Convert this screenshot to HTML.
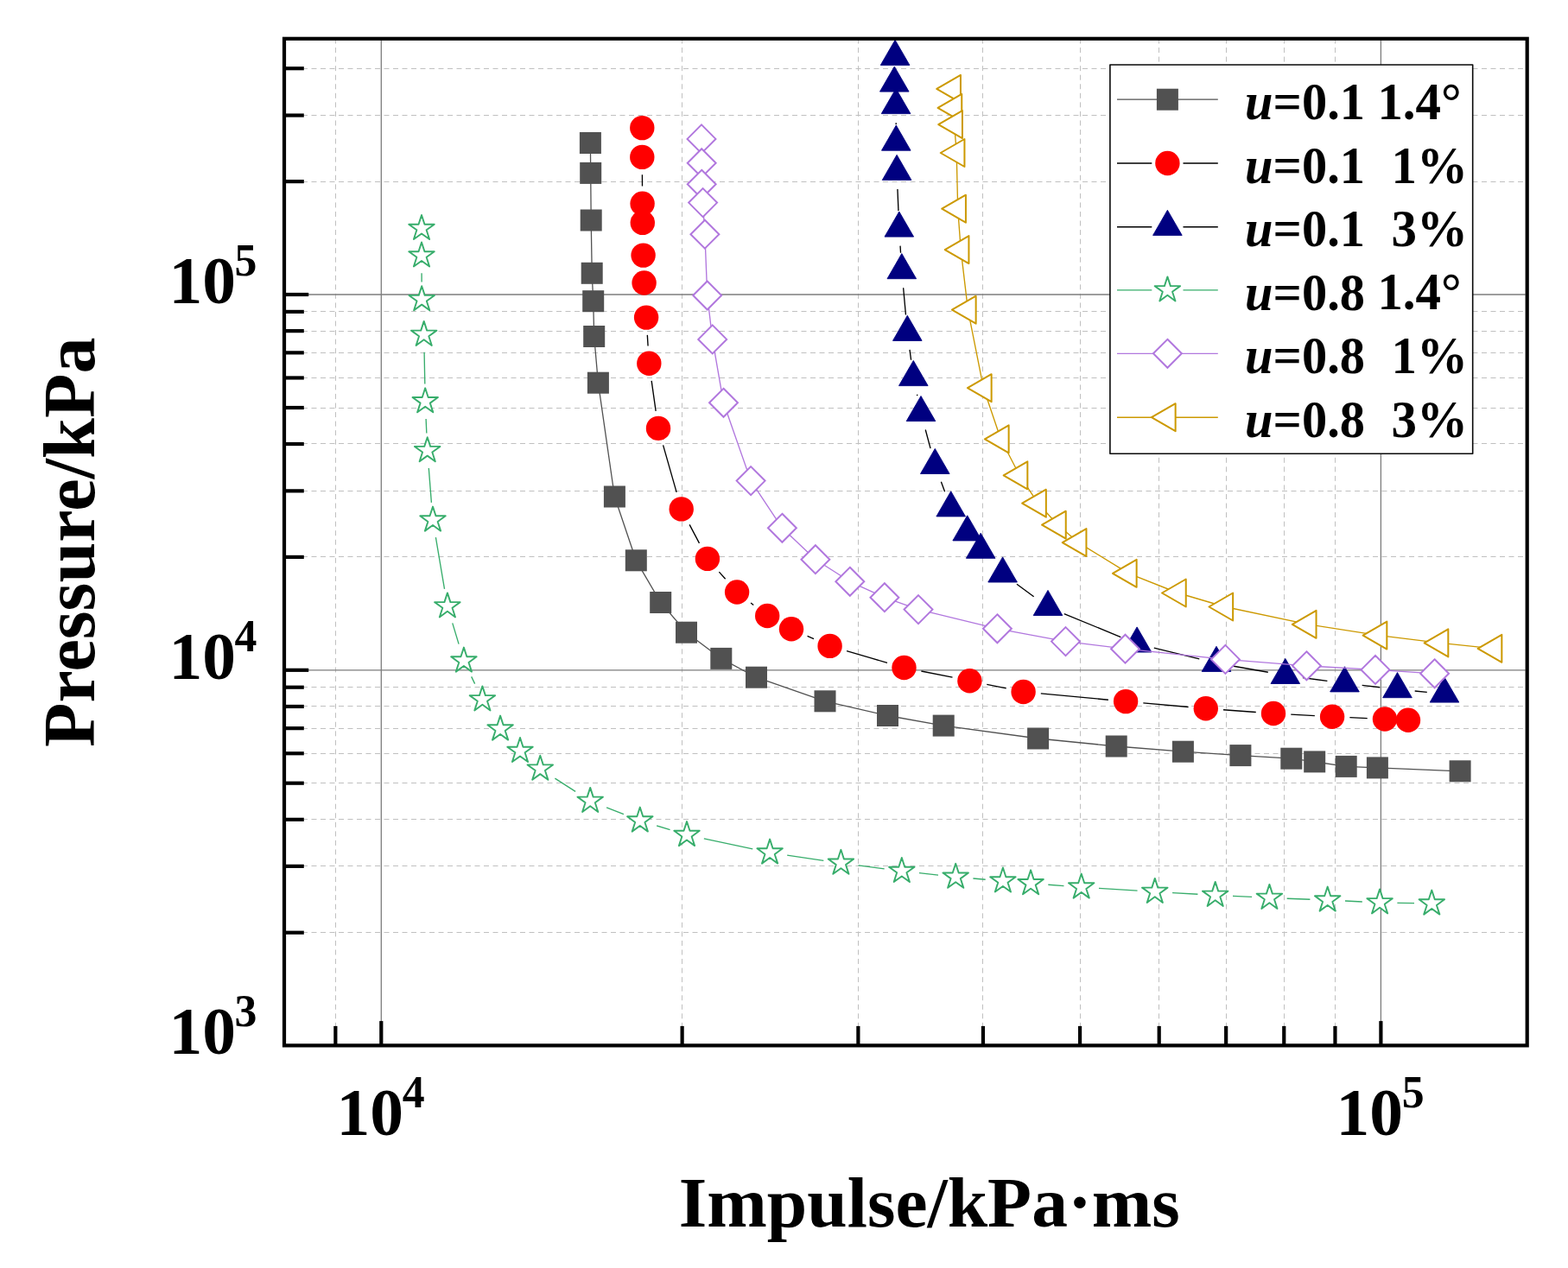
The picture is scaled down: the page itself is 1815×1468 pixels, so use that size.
<!DOCTYPE html>
<html lang="en"><head><meta charset="utf-8"><title>Pressure-Impulse curves</title>
<style>html,body{margin:0;padding:0;background:#fff}body{width:1815px;height:1468px;overflow:hidden}svg{display:block}text{font-family:"Liberation Serif",serif;font-weight:bold;fill:#000}</style>
</head><body>
<svg width="1815" height="1468" viewBox="0 0 1815 1468">
<rect x="0" y="0" width="1815" height="1468" fill="#fff"/>
<g stroke="#c0c0c0" stroke-width="1" stroke-dasharray="6 4.55" fill="none"><line x1="388.5" y1="44.5" x2="388.5" y2="1188.4"/><line x1="789.5" y1="44.5" x2="789.5" y2="1188.4"/><line x1="993.5" y1="44.5" x2="993.5" y2="1188.4"/><line x1="1137.5" y1="44.5" x2="1137.5" y2="1188.4"/><line x1="1250.5" y1="44.5" x2="1250.5" y2="1188.4"/><line x1="1341.5" y1="44.5" x2="1341.5" y2="1188.4"/><line x1="1419.5" y1="44.5" x2="1419.5" y2="1188.4"/><line x1="1486.5" y1="44.5" x2="1486.5" y2="1188.4"/><line x1="1545.5" y1="44.5" x2="1545.5" y2="1188.4"/></g>
<g stroke="#c0c0c0" stroke-width="1" stroke-dasharray="6 4.5" fill="none"><line x1="329" y1="1079.5" x2="1765.7" y2="1079.5"/><line x1="329" y1="1002.5" x2="1765.7" y2="1002.5"/><line x1="329" y1="948.5" x2="1765.7" y2="948.5"/><line x1="329" y1="906.5" x2="1765.7" y2="906.5"/><line x1="329" y1="872.5" x2="1765.7" y2="872.5"/><line x1="329" y1="843.5" x2="1765.7" y2="843.5"/><line x1="329" y1="817.5" x2="1765.7" y2="817.5"/><line x1="329" y1="795.5" x2="1765.7" y2="795.5"/><line x1="329" y1="644.5" x2="1765.7" y2="644.5"/><line x1="329" y1="568.5" x2="1765.7" y2="568.5"/><line x1="329" y1="513.5" x2="1765.7" y2="513.5"/><line x1="329" y1="472.5" x2="1765.7" y2="472.5"/><line x1="329" y1="437.5" x2="1765.7" y2="437.5"/><line x1="329" y1="408.5" x2="1765.7" y2="408.5"/><line x1="329" y1="383.5" x2="1765.7" y2="383.5"/><line x1="329" y1="360.5" x2="1765.7" y2="360.5"/><line x1="329" y1="210.5" x2="1765.7" y2="210.5"/><line x1="329" y1="133.5" x2="1765.7" y2="133.5"/><line x1="329" y1="79.5" x2="1765.7" y2="79.5"/></g>
<g stroke="#7c7c7c" stroke-width="1.3" fill="none"><line x1="441.3" y1="46.8" x2="441.3" y2="1184.4"/><line x1="1598.4" y1="46.8" x2="1598.4" y2="1184.4"/><line x1="355" y1="775.8" x2="1765.7" y2="775.8"/><line x1="355" y1="341" x2="1765.7" y2="341"/></g>
<g>
<path d="M683.4 165.5 L683.7 200.4 L684.2 255 L685.2 316.3 L686.7 348.7 L687.7 389.5 L692.4 443.2 L711.4 575 L736.3 648.8 L764.7 697.5 L794.5 732.2 L834.8 762.4 L875.5 784.2 L955 811.8 L1027.5 828.5 L1092.2 840.1 L1201.6 855 L1292.2 864 L1369.4 870.2 L1435.9 874.6 L1494.8 878.2 L1521.7 881.9 L1558.2 887.4 L1594.4 888.9 L1690.1 892.8" fill="none" stroke="#515151" stroke-width="1.3" stroke-linejoin="round"/>
<rect x="670.9" y="153" width="25" height="25" fill="#515151"/>
<rect x="671.2" y="187.9" width="25" height="25" fill="#515151"/>
<rect x="671.7" y="242.5" width="25" height="25" fill="#515151"/>
<rect x="672.7" y="303.8" width="25" height="25" fill="#515151"/>
<rect x="674.2" y="336.2" width="25" height="25" fill="#515151"/>
<rect x="675.2" y="377" width="25" height="25" fill="#515151"/>
<rect x="679.9" y="430.7" width="25" height="25" fill="#515151"/>
<rect x="698.9" y="562.5" width="25" height="25" fill="#515151"/>
<rect x="723.8" y="636.3" width="25" height="25" fill="#515151"/>
<rect x="752.2" y="685" width="25" height="25" fill="#515151"/>
<rect x="782" y="719.7" width="25" height="25" fill="#515151"/>
<rect x="822.3" y="749.9" width="25" height="25" fill="#515151"/>
<rect x="863" y="771.7" width="25" height="25" fill="#515151"/>
<rect x="942.5" y="799.3" width="25" height="25" fill="#515151"/>
<rect x="1015" y="816" width="25" height="25" fill="#515151"/>
<rect x="1079.7" y="827.6" width="25" height="25" fill="#515151"/>
<rect x="1189.1" y="842.5" width="25" height="25" fill="#515151"/>
<rect x="1279.7" y="851.5" width="25" height="25" fill="#515151"/>
<rect x="1356.9" y="857.7" width="25" height="25" fill="#515151"/>
<rect x="1423.4" y="862.1" width="25" height="25" fill="#515151"/>
<rect x="1482.3" y="865.7" width="25" height="25" fill="#515151"/>
<rect x="1509.2" y="869.4" width="25" height="25" fill="#515151"/>
<rect x="1545.7" y="874.9" width="25" height="25" fill="#515151"/>
<rect x="1581.9" y="876.4" width="25" height="25" fill="#515151"/>
<rect x="1677.6" y="880.3" width="25" height="25" fill="#515151"/>
</g>
<g>
<path d="M743.41 202.2 L743.49 215.4 M749.32 387.86 L750.08 400.44 M754.16 440.8 L759.14 475.8 M767.57 515.42 L783.13 569.88 M798.14 607.37 L809.46 628.93 M832.36 662.09 L839.64 670.31 M869.08 698.02 L872.22 700.48 M934.57 736.4 L942.03 739.7 M980.09 753.59 L1027.01 767.31 M1066.4 776.99 L1102.5 784.21 M1142.28 792.29 L1164.72 796.91 M1204.81 802.89 L1282.89 810.21 M1323.32 813.89 L1375.58 818.51 M1416.05 821.78 L1453.75 824.52 M1494.27 827.13 L1521.83 828.67 M1562.38 830.7 L1582.72 831.6" fill="none" stroke="#000000" stroke-width="1.35"/>
<circle cx="743.3" cy="148.1" r="14.2" fill="#FF0000"/>
<circle cx="743.3" cy="181.9" r="14.2" fill="#FF0000"/>
<circle cx="743.6" cy="235.7" r="14.2" fill="#FF0000"/>
<circle cx="743.8" cy="257.9" r="14.2" fill="#FF0000"/>
<circle cx="744.6" cy="295.6" r="14.2" fill="#FF0000"/>
<circle cx="745.6" cy="327.5" r="14.2" fill="#FF0000"/>
<circle cx="748.1" cy="367.6" r="14.2" fill="#FF0000"/>
<circle cx="751.3" cy="420.7" r="14.2" fill="#FF0000"/>
<circle cx="762" cy="495.9" r="14.2" fill="#FF0000"/>
<circle cx="788.7" cy="589.4" r="14.2" fill="#FF0000"/>
<circle cx="818.9" cy="646.9" r="14.2" fill="#FF0000"/>
<circle cx="853.1" cy="685.5" r="14.2" fill="#FF0000"/>
<circle cx="888.2" cy="713" r="14.2" fill="#FF0000"/>
<circle cx="916" cy="728.2" r="14.2" fill="#FF0000"/>
<circle cx="960.6" cy="747.9" r="14.2" fill="#FF0000"/>
<circle cx="1046.5" cy="773" r="14.2" fill="#FF0000"/>
<circle cx="1122.4" cy="788.2" r="14.2" fill="#FF0000"/>
<circle cx="1184.6" cy="801" r="14.2" fill="#FF0000"/>
<circle cx="1303.1" cy="812.1" r="14.2" fill="#FF0000"/>
<circle cx="1395.8" cy="820.3" r="14.2" fill="#FF0000"/>
<circle cx="1474" cy="826" r="14.2" fill="#FF0000"/>
<circle cx="1542.1" cy="829.8" r="14.2" fill="#FF0000"/>
<circle cx="1603" cy="832.5" r="14.2" fill="#FF0000"/>
<circle cx="1630" cy="833.8" r="14.2" fill="#FF0000"/>
</g>
<g>
<path d="M1037.2 142.2 L1037.2 144.2 M1038.93 218.98 L1039.97 244.12 M1042.05 284.66 L1042.55 292.74 M1045.63 333.22 L1048.47 364.48 M1053 404.82 L1054.6 416.78 M1061.51 456.76 L1061.79 458.04 M1071.25 497.51 L1077.05 519.19 M1089.39 557.82 L1093.61 569.18 M1176.96 676.32 L1196.64 690.78 M1231.77 710.54 L1297.33 737.56 M1335.82 750.11 L1388.28 762.89 M1427.99 771.23 L1467.81 778.27 M1507.91 784.55 L1536.39 788.45 M1576.68 793.45 L1597.32 795.75 M1637.7 800 L1651.8 801.4" fill="none" stroke="#000000" stroke-width="1.35"/>
<polygon points="1036.1,46.3 1019.3,75.4 1052.9,75.4" fill="#000080" stroke="#000080" stroke-width="0.9" stroke-linejoin="round"/>
<polygon points="1035.3,77 1018.5,106.1 1052.1,106.1" fill="#000080" stroke="#000080" stroke-width="0.9" stroke-linejoin="round"/>
<polygon points="1037.1,102.5 1020.3,131.6 1053.9,131.6" fill="#000080" stroke="#000080" stroke-width="0.9" stroke-linejoin="round"/>
<polygon points="1037.3,145.1 1020.5,174.2 1054.1,174.2" fill="#000080" stroke="#000080" stroke-width="0.9" stroke-linejoin="round"/>
<polygon points="1038.1,179.3 1021.3,208.4 1054.9,208.4" fill="#000080" stroke="#000080" stroke-width="0.9" stroke-linejoin="round"/>
<polygon points="1040.8,245 1024,274.1 1057.6,274.1" fill="#000080" stroke="#000080" stroke-width="0.9" stroke-linejoin="round"/>
<polygon points="1043.8,293.6 1027,322.7 1060.6,322.7" fill="#000080" stroke="#000080" stroke-width="0.9" stroke-linejoin="round"/>
<polygon points="1050.3,365.3 1033.5,394.4 1067.1,394.4" fill="#000080" stroke="#000080" stroke-width="0.9" stroke-linejoin="round"/>
<polygon points="1057.3,417.5 1040.5,446.6 1074.1,446.6" fill="#000080" stroke="#000080" stroke-width="0.9" stroke-linejoin="round"/>
<polygon points="1066,458.5 1049.2,487.6 1082.8,487.6" fill="#000080" stroke="#000080" stroke-width="0.9" stroke-linejoin="round"/>
<polygon points="1082.3,519.4 1065.5,548.5 1099.1,548.5" fill="#000080" stroke="#000080" stroke-width="0.9" stroke-linejoin="round"/>
<polygon points="1100.7,568.8 1083.9,597.9 1117.5,597.9" fill="#000080" stroke="#000080" stroke-width="0.9" stroke-linejoin="round"/>
<polygon points="1119.7,596.8 1102.9,625.9 1136.5,625.9" fill="#000080" stroke="#000080" stroke-width="0.9" stroke-linejoin="round"/>
<polygon points="1135.2,617.2 1118.4,646.3 1152,646.3" fill="#000080" stroke="#000080" stroke-width="0.9" stroke-linejoin="round"/>
<polygon points="1160.6,644.9 1143.8,674 1177.4,674" fill="#000080" stroke="#000080" stroke-width="0.9" stroke-linejoin="round"/>
<polygon points="1213,683.4 1196.2,712.5 1229.8,712.5" fill="#000080" stroke="#000080" stroke-width="0.9" stroke-linejoin="round"/>
<polygon points="1316.1,725.9 1299.3,755 1332.9,755" fill="#000080" stroke="#000080" stroke-width="0.9" stroke-linejoin="round"/>
<polygon points="1408,748.3 1391.2,777.4 1424.8,777.4" fill="#000080" stroke="#000080" stroke-width="0.9" stroke-linejoin="round"/>
<polygon points="1487.8,762.4 1471,791.5 1504.6,791.5" fill="#000080" stroke="#000080" stroke-width="0.9" stroke-linejoin="round"/>
<polygon points="1556.5,771.8 1539.7,800.9 1573.3,800.9" fill="#000080" stroke="#000080" stroke-width="0.9" stroke-linejoin="round"/>
<polygon points="1617.5,778.6 1600.7,807.7 1634.3,807.7" fill="#000080" stroke="#000080" stroke-width="0.9" stroke-linejoin="round"/>
<polygon points="1672,784 1655.2,813.1 1688.8,813.1" fill="#000080" stroke="#000080" stroke-width="0.9" stroke-linejoin="round"/>
</g>
<g>
<path d="M488.08 316.3 L488.12 326.4 M491.09 407.7 L491.81 444.5 M493.09 485.08 L493.81 501.42 M496.29 541.94 L499.41 581.86 M504.39 622.12 L514.51 681.88 M523.74 721.34 L531.06 745.66 M545.68 783.4 L549.62 791.6 M642.38 901.17 L666.12 916.43 M702.09 934.84 L721.91 942.66 M760.22 956.01 L775.58 960.69 M814.85 970.84 L871.25 982.86 M911.18 990.08 L953.32 996.32 M993.53 1001.93 L1023.67 1005.87 M1063.98 1010.7 L1086.02 1013.1 M1126.43 1017.04 L1140.67 1018.26 M1213.35 1024.29 L1231.45 1025.61 M1271.96 1028.36 L1316.54 1031.14 M1357.07 1033.56 L1386.43 1035.24 M1426.98 1037.37 L1449.12 1038.43 M1489.68 1040.21 L1516.42 1041.29 M1556.98 1043.04 L1576.82 1043.96 M1617.4 1045.3 L1637 1045.7" fill="none" stroke="#37AD6B" stroke-width="1.35"/>
<polygon points="488,249 491.48,259.71 502.74,259.71 493.63,266.33 497.11,277.04 488,270.42 478.89,277.04 482.37,266.33 473.26,259.71 484.52,259.71" fill="#fff" stroke="#37AD6B" stroke-width="1.9" stroke-linejoin="round"/>
<polygon points="488,280.5 491.48,291.21 502.74,291.21 493.63,297.83 497.11,308.54 488,301.92 478.89,308.54 482.37,297.83 473.26,291.21 484.52,291.21" fill="#fff" stroke="#37AD6B" stroke-width="1.9" stroke-linejoin="round"/>
<polygon points="488.2,331.2 491.68,341.91 502.94,341.91 493.83,348.53 497.31,359.24 488.2,352.62 479.09,359.24 482.57,348.53 473.46,341.91 484.72,341.91" fill="#fff" stroke="#37AD6B" stroke-width="1.9" stroke-linejoin="round"/>
<polygon points="490.7,371.9 494.18,382.61 505.44,382.61 496.33,389.23 499.81,399.94 490.7,393.32 481.59,399.94 485.07,389.23 475.96,382.61 487.22,382.61" fill="#fff" stroke="#37AD6B" stroke-width="1.9" stroke-linejoin="round"/>
<polygon points="492.2,449.3 495.68,460.01 506.94,460.01 497.83,466.63 501.31,477.34 492.2,470.72 483.09,477.34 486.57,466.63 477.46,460.01 488.72,460.01" fill="#fff" stroke="#37AD6B" stroke-width="1.9" stroke-linejoin="round"/>
<polygon points="494.7,506.2 498.18,516.91 509.44,516.91 500.33,523.53 503.81,534.24 494.7,527.62 485.59,534.24 489.07,523.53 479.96,516.91 491.22,516.91" fill="#fff" stroke="#37AD6B" stroke-width="1.9" stroke-linejoin="round"/>
<polygon points="501,586.6 504.48,597.31 515.74,597.31 506.63,603.93 510.11,614.64 501,608.02 491.89,614.64 495.37,603.93 486.26,597.31 497.52,597.31" fill="#fff" stroke="#37AD6B" stroke-width="1.9" stroke-linejoin="round"/>
<polygon points="517.9,686.4 521.38,697.11 532.64,697.11 523.53,703.73 527.01,714.44 517.9,707.82 508.79,714.44 512.27,703.73 503.16,697.11 514.42,697.11" fill="#fff" stroke="#37AD6B" stroke-width="1.9" stroke-linejoin="round"/>
<polygon points="536.9,749.6 540.38,760.31 551.64,760.31 542.53,766.93 546.01,777.64 536.9,771.02 527.79,777.64 531.27,766.93 522.16,760.31 533.42,760.31" fill="#fff" stroke="#37AD6B" stroke-width="1.9" stroke-linejoin="round"/>
<polygon points="558.4,794.4 561.88,805.11 573.14,805.11 564.03,811.73 567.51,822.44 558.4,815.82 549.29,822.44 552.77,811.73 543.66,805.11 554.92,805.11" fill="#fff" stroke="#37AD6B" stroke-width="1.9" stroke-linejoin="round"/>
<polygon points="579.1,828.6 582.58,839.31 593.84,839.31 584.73,845.93 588.21,856.64 579.1,850.02 569.99,856.64 573.47,845.93 564.36,839.31 575.62,839.31" fill="#fff" stroke="#37AD6B" stroke-width="1.9" stroke-linejoin="round"/>
<polygon points="602,854 605.48,864.71 616.74,864.71 607.63,871.33 611.11,882.04 602,875.42 592.89,882.04 596.37,871.33 587.26,864.71 598.52,864.71" fill="#fff" stroke="#37AD6B" stroke-width="1.9" stroke-linejoin="round"/>
<polygon points="625.3,874.7 628.78,885.41 640.04,885.41 630.93,892.03 634.41,902.74 625.3,896.12 616.19,902.74 619.67,892.03 610.56,885.41 621.82,885.41" fill="#fff" stroke="#37AD6B" stroke-width="1.9" stroke-linejoin="round"/>
<polygon points="683.2,911.9 686.68,922.61 697.94,922.61 688.83,929.23 692.31,939.94 683.2,933.32 674.09,939.94 677.57,929.23 668.46,922.61 679.72,922.61" fill="#fff" stroke="#37AD6B" stroke-width="1.9" stroke-linejoin="round"/>
<polygon points="740.8,934.6 744.28,945.31 755.54,945.31 746.43,951.93 749.91,962.64 740.8,956.02 731.69,962.64 735.17,951.93 726.06,945.31 737.32,945.31" fill="#fff" stroke="#37AD6B" stroke-width="1.9" stroke-linejoin="round"/>
<polygon points="795,951.1 798.48,961.81 809.74,961.81 800.63,968.43 804.11,979.14 795,972.52 785.89,979.14 789.37,968.43 780.26,961.81 791.52,961.81" fill="#fff" stroke="#37AD6B" stroke-width="1.9" stroke-linejoin="round"/>
<polygon points="891.1,971.6 894.58,982.31 905.84,982.31 896.73,988.93 900.21,999.64 891.1,993.02 881.99,999.64 885.47,988.93 876.36,982.31 887.62,982.31" fill="#fff" stroke="#37AD6B" stroke-width="1.9" stroke-linejoin="round"/>
<polygon points="973.4,983.8 976.88,994.51 988.14,994.51 979.03,1001.13 982.51,1011.84 973.4,1005.22 964.29,1011.84 967.77,1001.13 958.66,994.51 969.92,994.51" fill="#fff" stroke="#37AD6B" stroke-width="1.9" stroke-linejoin="round"/>
<polygon points="1043.8,993 1047.28,1003.71 1058.54,1003.71 1049.43,1010.33 1052.91,1021.04 1043.8,1014.42 1034.69,1021.04 1038.17,1010.33 1029.06,1003.71 1040.32,1003.71" fill="#fff" stroke="#37AD6B" stroke-width="1.9" stroke-linejoin="round"/>
<polygon points="1106.2,999.8 1109.68,1010.51 1120.94,1010.51 1111.83,1017.13 1115.31,1027.84 1106.2,1021.22 1097.09,1027.84 1100.57,1017.13 1091.46,1010.51 1102.72,1010.51" fill="#fff" stroke="#37AD6B" stroke-width="1.9" stroke-linejoin="round"/>
<polygon points="1160.9,1004.5 1164.38,1015.21 1175.64,1015.21 1166.53,1021.83 1170.01,1032.54 1160.9,1025.92 1151.79,1032.54 1155.27,1021.83 1146.16,1015.21 1157.42,1015.21" fill="#fff" stroke="#37AD6B" stroke-width="1.9" stroke-linejoin="round"/>
<polygon points="1193.1,1007.3 1196.58,1018.01 1207.84,1018.01 1198.73,1024.63 1202.21,1035.34 1193.1,1028.72 1183.99,1035.34 1187.47,1024.63 1178.36,1018.01 1189.62,1018.01" fill="#fff" stroke="#37AD6B" stroke-width="1.9" stroke-linejoin="round"/>
<polygon points="1251.7,1011.6 1255.18,1022.31 1266.44,1022.31 1257.33,1028.93 1260.81,1039.64 1251.7,1033.02 1242.59,1039.64 1246.07,1028.93 1236.96,1022.31 1248.22,1022.31" fill="#fff" stroke="#37AD6B" stroke-width="1.9" stroke-linejoin="round"/>
<polygon points="1336.8,1016.9 1340.28,1027.61 1351.54,1027.61 1342.43,1034.23 1345.91,1044.94 1336.8,1038.32 1327.69,1044.94 1331.17,1034.23 1322.06,1027.61 1333.32,1027.61" fill="#fff" stroke="#37AD6B" stroke-width="1.9" stroke-linejoin="round"/>
<polygon points="1406.7,1020.9 1410.18,1031.61 1421.44,1031.61 1412.33,1038.23 1415.81,1048.94 1406.7,1042.32 1397.59,1048.94 1401.07,1038.23 1391.96,1031.61 1403.22,1031.61" fill="#fff" stroke="#37AD6B" stroke-width="1.9" stroke-linejoin="round"/>
<polygon points="1469.4,1023.9 1472.88,1034.61 1484.14,1034.61 1475.03,1041.23 1478.51,1051.94 1469.4,1045.32 1460.29,1051.94 1463.77,1041.23 1454.66,1034.61 1465.92,1034.61" fill="#fff" stroke="#37AD6B" stroke-width="1.9" stroke-linejoin="round"/>
<polygon points="1536.7,1026.6 1540.18,1037.31 1551.44,1037.31 1542.33,1043.93 1545.81,1054.64 1536.7,1048.02 1527.59,1054.64 1531.07,1043.93 1521.96,1037.31 1533.22,1037.31" fill="#fff" stroke="#37AD6B" stroke-width="1.9" stroke-linejoin="round"/>
<polygon points="1597.1,1029.4 1600.58,1040.11 1611.84,1040.11 1602.73,1046.73 1606.21,1057.44 1597.1,1050.82 1587.99,1057.44 1591.47,1046.73 1582.36,1040.11 1593.62,1040.11" fill="#fff" stroke="#37AD6B" stroke-width="1.9" stroke-linejoin="round"/>
<polygon points="1657.3,1030.6 1660.78,1041.31 1672.04,1041.31 1662.93,1047.93 1666.41,1058.64 1657.3,1052.02 1648.19,1058.64 1651.67,1047.93 1642.56,1041.31 1653.82,1041.31" fill="#fff" stroke="#37AD6B" stroke-width="1.9" stroke-linejoin="round"/>
</g>
<g>
<path d="M812 160.9 L812.2 188.7 L812.2 213.3 L813.6 234.6 L815.9 271.2 L818.7 342 L824.7 392.9 L837.5 466.3 L869.1 556.6 L905.4 611.3 L943.9 647.7 L983.8 673.3 L1023.9 691.7 L1063 705.6 L1154.4 727.8 L1233.5 742.6 L1302.5 751.2 L1418.4 763.4 L1512.4 770.8 L1592 775.4 L1660.6 779.8" fill="none" stroke="#B177DE" stroke-width="1.35" stroke-linejoin="round"/>
<polygon points="812,144.4 828.45,160.9 812,177.4 795.55,160.9" fill="#fff" stroke="#B177DE" stroke-width="2" stroke-linejoin="miter"/>
<polygon points="812.2,172.2 828.65,188.7 812.2,205.2 795.75,188.7" fill="#fff" stroke="#B177DE" stroke-width="2" stroke-linejoin="miter"/>
<polygon points="812.2,196.8 828.65,213.3 812.2,229.8 795.75,213.3" fill="#fff" stroke="#B177DE" stroke-width="2" stroke-linejoin="miter"/>
<polygon points="813.6,218.1 830.05,234.6 813.6,251.1 797.15,234.6" fill="#fff" stroke="#B177DE" stroke-width="2" stroke-linejoin="miter"/>
<polygon points="815.9,254.7 832.35,271.2 815.9,287.7 799.45,271.2" fill="#fff" stroke="#B177DE" stroke-width="2" stroke-linejoin="miter"/>
<polygon points="818.7,325.5 835.15,342 818.7,358.5 802.25,342" fill="#fff" stroke="#B177DE" stroke-width="2" stroke-linejoin="miter"/>
<polygon points="824.7,376.4 841.15,392.9 824.7,409.4 808.25,392.9" fill="#fff" stroke="#B177DE" stroke-width="2" stroke-linejoin="miter"/>
<polygon points="837.5,449.8 853.95,466.3 837.5,482.8 821.05,466.3" fill="#fff" stroke="#B177DE" stroke-width="2" stroke-linejoin="miter"/>
<polygon points="869.1,540.1 885.55,556.6 869.1,573.1 852.65,556.6" fill="#fff" stroke="#B177DE" stroke-width="2" stroke-linejoin="miter"/>
<polygon points="905.4,594.8 921.85,611.3 905.4,627.8 888.95,611.3" fill="#fff" stroke="#B177DE" stroke-width="2" stroke-linejoin="miter"/>
<polygon points="943.9,631.2 960.35,647.7 943.9,664.2 927.45,647.7" fill="#fff" stroke="#B177DE" stroke-width="2" stroke-linejoin="miter"/>
<polygon points="983.8,656.8 1000.25,673.3 983.8,689.8 967.35,673.3" fill="#fff" stroke="#B177DE" stroke-width="2" stroke-linejoin="miter"/>
<polygon points="1023.9,675.2 1040.35,691.7 1023.9,708.2 1007.45,691.7" fill="#fff" stroke="#B177DE" stroke-width="2" stroke-linejoin="miter"/>
<polygon points="1063,689.1 1079.45,705.6 1063,722.1 1046.55,705.6" fill="#fff" stroke="#B177DE" stroke-width="2" stroke-linejoin="miter"/>
<polygon points="1154.4,711.3 1170.85,727.8 1154.4,744.3 1137.95,727.8" fill="#fff" stroke="#B177DE" stroke-width="2" stroke-linejoin="miter"/>
<polygon points="1233.5,726.1 1249.95,742.6 1233.5,759.1 1217.05,742.6" fill="#fff" stroke="#B177DE" stroke-width="2" stroke-linejoin="miter"/>
<polygon points="1302.5,734.7 1318.95,751.2 1302.5,767.7 1286.05,751.2" fill="#fff" stroke="#B177DE" stroke-width="2" stroke-linejoin="miter"/>
<polygon points="1418.4,746.9 1434.85,763.4 1418.4,779.9 1401.95,763.4" fill="#fff" stroke="#B177DE" stroke-width="2" stroke-linejoin="miter"/>
<polygon points="1512.4,754.3 1528.85,770.8 1512.4,787.3 1495.95,770.8" fill="#fff" stroke="#B177DE" stroke-width="2" stroke-linejoin="miter"/>
<polygon points="1592,758.9 1608.45,775.4 1592,791.9 1575.55,775.4" fill="#fff" stroke="#B177DE" stroke-width="2" stroke-linejoin="miter"/>
<polygon points="1660.6,763.3 1677.05,779.8 1660.6,796.3 1644.15,779.8" fill="#fff" stroke="#B177DE" stroke-width="2" stroke-linejoin="miter"/>
</g>
<g>
<path d="M1102.7 102.9 L1104 124.9 L1104.7 144.1 L1107.2 177 L1108.7 241.7 L1112.2 289.1 L1120.4 358.7 L1138.4 449.2 L1158.4 508.3 L1180.1 550.3 L1201.6 582.7 L1224.5 607.7 L1248.2 628.1 L1306.4 663.8 L1363.5 686.5 L1417.9 702.5 L1514.3 722.8 L1596.1 735.6 L1667.1 744.4 L1729.1 750.8" fill="none" stroke="#CC9900" stroke-width="1.35" stroke-linejoin="round"/>
<polygon points="1084.22,102.9 1111.94,86.9 1111.94,118.9" fill="#fff" stroke="#CC9900" stroke-width="2" stroke-linejoin="round"/>
<polygon points="1085.52,124.9 1113.24,108.9 1113.24,140.9" fill="#fff" stroke="#CC9900" stroke-width="2" stroke-linejoin="round"/>
<polygon points="1086.22,144.1 1113.94,128.1 1113.94,160.1" fill="#fff" stroke="#CC9900" stroke-width="2" stroke-linejoin="round"/>
<polygon points="1088.72,177 1116.44,161 1116.44,193" fill="#fff" stroke="#CC9900" stroke-width="2" stroke-linejoin="round"/>
<polygon points="1090.22,241.7 1117.94,225.7 1117.94,257.7" fill="#fff" stroke="#CC9900" stroke-width="2" stroke-linejoin="round"/>
<polygon points="1093.72,289.1 1121.44,273.1 1121.44,305.1" fill="#fff" stroke="#CC9900" stroke-width="2" stroke-linejoin="round"/>
<polygon points="1101.92,358.7 1129.64,342.7 1129.64,374.7" fill="#fff" stroke="#CC9900" stroke-width="2" stroke-linejoin="round"/>
<polygon points="1119.92,449.2 1147.64,433.2 1147.64,465.2" fill="#fff" stroke="#CC9900" stroke-width="2" stroke-linejoin="round"/>
<polygon points="1139.92,508.3 1167.64,492.3 1167.64,524.3" fill="#fff" stroke="#CC9900" stroke-width="2" stroke-linejoin="round"/>
<polygon points="1161.62,550.3 1189.34,534.3 1189.34,566.3" fill="#fff" stroke="#CC9900" stroke-width="2" stroke-linejoin="round"/>
<polygon points="1183.12,582.7 1210.84,566.7 1210.84,598.7" fill="#fff" stroke="#CC9900" stroke-width="2" stroke-linejoin="round"/>
<polygon points="1206.02,607.7 1233.74,591.7 1233.74,623.7" fill="#fff" stroke="#CC9900" stroke-width="2" stroke-linejoin="round"/>
<polygon points="1229.72,628.1 1257.44,612.1 1257.44,644.1" fill="#fff" stroke="#CC9900" stroke-width="2" stroke-linejoin="round"/>
<polygon points="1287.92,663.8 1315.64,647.8 1315.64,679.8" fill="#fff" stroke="#CC9900" stroke-width="2" stroke-linejoin="round"/>
<polygon points="1345.02,686.5 1372.74,670.5 1372.74,702.5" fill="#fff" stroke="#CC9900" stroke-width="2" stroke-linejoin="round"/>
<polygon points="1399.42,702.5 1427.14,686.5 1427.14,718.5" fill="#fff" stroke="#CC9900" stroke-width="2" stroke-linejoin="round"/>
<polygon points="1495.82,722.8 1523.54,706.8 1523.54,738.8" fill="#fff" stroke="#CC9900" stroke-width="2" stroke-linejoin="round"/>
<polygon points="1577.62,735.6 1605.34,719.6 1605.34,751.6" fill="#fff" stroke="#CC9900" stroke-width="2" stroke-linejoin="round"/>
<polygon points="1648.62,744.4 1676.34,728.4 1676.34,760.4" fill="#fff" stroke="#CC9900" stroke-width="2" stroke-linejoin="round"/>
<polygon points="1710.62,750.8 1738.34,734.8 1738.34,766.8" fill="#fff" stroke="#CC9900" stroke-width="2" stroke-linejoin="round"/>
</g>
<g stroke="#000" stroke-width="4.2" fill="none"><line x1="388.35" y1="1210.4" x2="388.35" y2="1187.9"/><line x1="789.62" y1="1210.4" x2="789.62" y2="1187.9"/><line x1="993.38" y1="1210.4" x2="993.38" y2="1187.9"/><line x1="1137.94" y1="1210.4" x2="1137.94" y2="1187.9"/><line x1="1250.08" y1="1210.4" x2="1250.08" y2="1187.9"/><line x1="1341.7" y1="1210.4" x2="1341.7" y2="1187.9"/><line x1="1419.16" y1="1210.4" x2="1419.16" y2="1187.9"/><line x1="1486.27" y1="1210.4" x2="1486.27" y2="1187.9"/><line x1="1545.45" y1="1210.4" x2="1545.45" y2="1187.9"/><line x1="441.3" y1="1210.4" x2="441.3" y2="1182.1"/><line x1="1598.4" y1="1210.4" x2="1598.4" y2="1182.1"/><line x1="329" y1="1079.71" x2="351.8" y2="1079.71"/><line x1="329" y1="1002.85" x2="351.8" y2="1002.85"/><line x1="329" y1="948.82" x2="351.8" y2="948.82"/><line x1="329" y1="906.69" x2="351.8" y2="906.69"/><line x1="329" y1="872.26" x2="351.8" y2="872.26"/><line x1="329" y1="843.15" x2="351.8" y2="843.15"/><line x1="329" y1="817.94" x2="351.8" y2="817.94"/><line x1="329" y1="795.7" x2="351.8" y2="795.7"/><line x1="329" y1="644.91" x2="351.8" y2="644.91"/><line x1="329" y1="568.35" x2="351.8" y2="568.35"/><line x1="329" y1="514.02" x2="351.8" y2="514.02"/><line x1="329" y1="472" x2="351.8" y2="472"/><line x1="329" y1="437.46" x2="351.8" y2="437.46"/><line x1="329" y1="408.35" x2="351.8" y2="408.35"/><line x1="329" y1="383.14" x2="351.8" y2="383.14"/><line x1="329" y1="360.9" x2="351.8" y2="360.9"/><line x1="329" y1="210.11" x2="351.8" y2="210.11"/><line x1="329" y1="133.55" x2="351.8" y2="133.55"/><line x1="329" y1="79.22" x2="351.8" y2="79.22"/><line x1="329" y1="775.8" x2="357.2" y2="775.8"/><line x1="329" y1="341" x2="357.2" y2="341"/></g>
<rect x="329" y="44.8" width="1438.7" height="1165.6" fill="none" stroke="#000" stroke-width="4.2"/>
<text transform="translate(195.4 350.8) rotate(0.02) scale(1 1.008)" font-size="77.5">10<tspan font-size="51.8" dx="-1.3" dy="-31.75">5</tspan></text>
<text transform="translate(195.4 785.6) rotate(0.02) scale(1 1.008)" font-size="77.5">10<tspan font-size="51.8" dx="-1.3" dy="-31.75">4</tspan></text>
<text transform="translate(195.4 1220.2) rotate(0.02) scale(1 1.008)" font-size="77.5">10<tspan font-size="51.8" dx="-1.3" dy="-31.75">3</tspan></text>
<text transform="translate(389.5 1314.3) rotate(0.02) scale(1 1.008)" font-size="77.5">10<tspan font-size="51.8" dx="-1.3" dy="-31.75">4</tspan></text>
<text transform="translate(1546.6 1314.3) rotate(0.02) scale(1 1.008)" font-size="77.5">10<tspan font-size="51.8" dx="-1.3" dy="-31.75">5</tspan></text>
<text transform="translate(785.8 1419.7) rotate(-0.015)" font-size="83.5">Impulse/kPa·ms</text>
<text transform="translate(109.2 865) rotate(-90)" font-size="84.3">Pressure/kPa</text>
<rect x="1284.9" y="75" width="419.8" height="450.2" fill="#fff" stroke="#0a0a0a" stroke-width="1.6" stroke-linejoin="round"/>
<path d="M1293 115.2 L1409.8 115.2" stroke="#515151" stroke-width="1.3" fill="none"/>
<rect x="1338.9" y="102.7" width="25" height="25" fill="#515151"/>
<text transform="translate(1441 137.8) rotate(0.02) scale(1 1.055)" font-size="58.5"><tspan font-style="italic">u</tspan>=0.1</text>
<text transform="translate(1691.7 137.8) rotate(0.02) scale(1 1.055)" font-size="59" text-anchor="end">1.4°</text>
<path d="M1293 189 L1333.3 189 M1369.5 189 L1409.8 189" stroke="#000000" stroke-width="1.35" fill="none"/>
<circle cx="1351.4" cy="189" r="14.2" fill="#FF0000"/>
<text transform="translate(1441 211.6) rotate(0.02) scale(1 1.055)" font-size="58.5"><tspan font-style="italic">u</tspan>=0.1</text>
<text transform="translate(1698.9 211.6) rotate(0.02) scale(1 1.055)" font-size="59" text-anchor="end">1%</text>
<path d="M1293 262.7 L1333.3 262.7 M1369.5 262.7 L1409.8 262.7" stroke="#000000" stroke-width="1.35" fill="none"/>
<polygon points="1351.4,243.3 1334.6,272.4 1368.2,272.4" fill="#000080" stroke="#000080" stroke-width="0.9" stroke-linejoin="round"/>
<text transform="translate(1441 285.3) rotate(0.02) scale(1 1.055)" font-size="58.5"><tspan font-style="italic">u</tspan>=0.1</text>
<text transform="translate(1698.9 285.3) rotate(0.02) scale(1 1.055)" font-size="59" text-anchor="end">3%</text>
<path d="M1293 335.9 L1333.3 335.9 M1369.5 335.9 L1409.8 335.9" stroke="#37AD6B" stroke-width="1.35" fill="none"/>
<polygon points="1351.4,320.4 1354.88,331.11 1366.14,331.11 1357.03,337.73 1360.51,348.44 1351.4,341.82 1342.29,348.44 1345.77,337.73 1336.66,331.11 1347.92,331.11" fill="#fff" stroke="#37AD6B" stroke-width="1.9" stroke-linejoin="round"/>
<text transform="translate(1441 358.5) rotate(0.02) scale(1 1.055)" font-size="58.5"><tspan font-style="italic">u</tspan>=0.8</text>
<text transform="translate(1691.7 358.5) rotate(0.02) scale(1 1.055)" font-size="59" text-anchor="end">1.4°</text>
<path d="M1293 409.3 L1409.8 409.3" stroke="#B177DE" stroke-width="1.35" fill="none"/>
<polygon points="1351.4,392.8 1367.85,409.3 1351.4,425.8 1334.95,409.3" fill="#fff" stroke="#B177DE" stroke-width="2" stroke-linejoin="miter"/>
<text transform="translate(1441 431.9) rotate(0.02) scale(1 1.055)" font-size="58.5"><tspan font-style="italic">u</tspan>=0.8</text>
<text transform="translate(1698.9 431.9) rotate(0.02) scale(1 1.055)" font-size="59" text-anchor="end">1%</text>
<path d="M1293 483.2 L1409.8 483.2" stroke="#CC9900" stroke-width="1.35" fill="none"/>
<polygon points="1332.92,483.2 1360.64,467.2 1360.64,499.2" fill="#fff" stroke="#CC9900" stroke-width="2" stroke-linejoin="round"/>
<text transform="translate(1441 505.8) rotate(0.02) scale(1 1.055)" font-size="58.5"><tspan font-style="italic">u</tspan>=0.8</text>
<text transform="translate(1698.9 505.8) rotate(0.02) scale(1 1.055)" font-size="59" text-anchor="end">3%</text>
</svg>
</body></html>
